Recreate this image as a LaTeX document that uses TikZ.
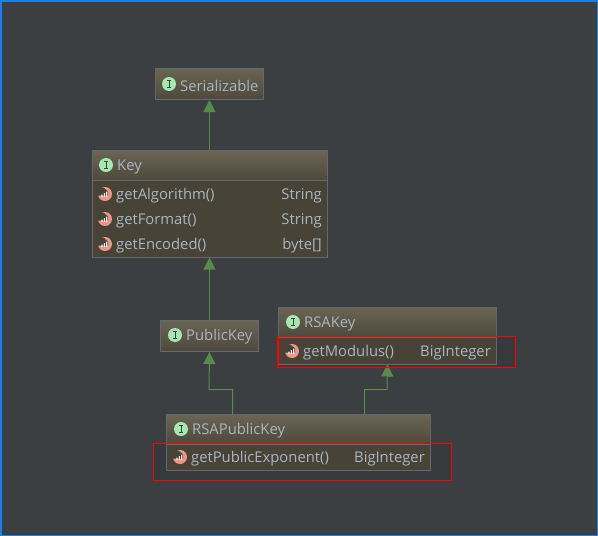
\documentclass[tikz,border=0pt]{standalone}
\usepackage{fontspec}
\setmainfont{Open Sans}
\usetikzlibrary{arrows.meta}

\definecolor{canvasbg}{HTML}{3C3F41}
\definecolor{windowblue}{HTML}{1B7FE6}
\definecolor{boxborder}{HTML}{65676A}
\definecolor{headtop}{HTML}{6A6454}
\definecolor{headbottom}{HTML}{4E493C}
\definecolor{bodyfill}{HTML}{484337}
\definecolor{labeltext}{HTML}{A9B5C1}
\definecolor{extgreen}{HTML}{5A8A4B}
\definecolor{ifacegreen}{HTML}{A3E8AE}
\definecolor{methodred}{HTML}{F2938A}

\tikzset{
  headbox/.style={draw=boxborder, line width=1pt, top color=headtop, bottom color=headbottom, anchor=north west, inner sep=0pt},
  bodybox/.style={draw=boxborder, line width=1pt, fill=bodyfill, anchor=north west, inner sep=0pt},
  namelabel/.style={text=labeltext, anchor=west, inner sep=0pt, yshift=-1.5pt, font=\fontsize{14.8}{16}\selectfont},
  typelabel/.style={text=labeltext, anchor=east, inner sep=0pt, yshift=-1.5pt, font=\fontsize{14.8}{16}\selectfont},
  extends/.style={draw=extgreen, line width=1pt, -{Triangle[length=12pt,width=12pt]}},
  redmark/.style={draw=red, line width=1.2pt},
  softshadow/.style={fill=black, opacity=0.07},
  ifaceicon/.pic={
    \fill[ifacegreen] (0,0) circle (7);
    \draw[black!75, line width=0.9pt] (0,-3.5) -- (0,3.5) (-2,-3.5) -- (2,-3.5) (-2,3.5) -- (2,3.5);
  },
  methodicon/.pic={
    \fill[methodred] (0,0) circle (7);
    \fill[bodyfill] (-8,1.5) -- (3,1.5) -- (3,-2.5) -- (-1,-6) -- (-8,-8) -- cycle;
    \fill[white!85!methodred] (-3.6,3) rectangle (-2.5,0.5) (-1.2,3) rectangle (-0.1,-1) (1.2,3) rectangle (2.3,-2.5);
  }
}

\begin{document}
\begin{tikzpicture}[x=1pt, y=-1pt]
    \useasboundingbox (0,0) rectangle (598,536);
    \fill[canvasbg] (0,0) rectangle (598,536);
    \draw[windowblue, line width=1.5pt] (0.75,0.75) rectangle (597.25,535.25);

    % Serializable
    \node[headbox, minimum width=108pt, minimum height=31pt] (serializable) at (155,68) {};
    \pic at (169,84) {ifaceicon};
    \node[namelabel] (serializablename) at (180,84) {Serializable};

    % Key
    \node[headbox, minimum width=235pt, minimum height=30pt] (keyhead) at (91.5,150) {};
    \node[bodybox, minimum width=235pt, minimum height=76.5pt] (keybody) at (91.5,180) {};
    \pic at (106,165) {ifaceicon};
    \node[namelabel] (keyname) at (117,165.5) {Key};
    \pic at (105,194) {methodicon};
    \node[namelabel] (algname) at (116,194) {getAlgorithm()};
    \node[typelabel] (algtype) at (322,194) {String};
    \pic at (105,219) {methodicon};
    \node[namelabel] (formatname) at (116,219) {getFormat()};
    \node[typelabel] (formattype) at (322,219) {String};
    \pic at (105,244) {methodicon};
    \node[namelabel] (encodedname) at (116,244) {getEncoded()};
    \node[typelabel] (encodedtype) at (322,244) {byte[]};

    % PublicKey
    \node[headbox, minimum width=98pt, minimum height=31.5pt] (publickey) at (160,319.5) {};
    \pic at (175,335) {ifaceicon};
    \node[namelabel] (publickeyname) at (186,335.5) {PublicKey};

    % RSAKey
    \fill[softshadow] (278,337) rectangle (516,368);
    \node[headbox, minimum width=218pt, minimum height=30pt] (rsakeyhead) at (278,307) {};
    \node[bodybox, minimum width=218pt, minimum height=26.5pt] (rsakeybody) at (278,337) {};
    \pic at (293,322) {ifaceicon};
    \node[namelabel] (rsakeyname) at (304,322.5) {RSAKey};
    \pic at (292,351) {methodicon};
    \node[namelabel] (modulusname) at (303,351) {getModulus()};
    \node[typelabel] (modulustype) at (491,351) {BigInteger};

    % RSAPublicKey
    \fill[softshadow] (153,444) rectangle (452,481);
    \node[headbox, minimum width=264pt, minimum height=29.5pt] (rsapublickeyhead) at (166,414) {};
    \node[bodybox, minimum width=264pt, minimum height=26.5pt] (rsapublickeybody) at (166,443.5) {};
    \pic at (181,429) {ifaceicon};
    \node[namelabel] (rsapublickeyname) at (192,429.5) {RSAPublicKey};
    \pic at (180,457) {methodicon};
    \node[namelabel] (exponentname) at (191,457) {getPublicExponent()};
    \node[typelabel] (exponenttype) at (425,457) {BigInteger};

    % extends
    \coordinate (pubstart) at (232.5,414);
    \coordinate (pubbend) at (209,389.5);
    \coordinate (rsastart) at (364.5,414);
    \coordinate (rsabend) at (387,389.5);
    \draw[extends] (keyhead.north) -- (serializable.south);
    \draw[extends] (publickey.north) -- (keybody.south);
    \draw[extends] (pubstart) |- (pubbend) -- (publickey.south);
    \draw[extends] (rsastart) |- (rsabend) -- (rsakeybody.south);

    % red marks
    \draw[redmark] (278,336.5) rectangle (515.5,367.5);
    \draw[redmark] (153.5,443.5) rectangle (451.5,480.5);
\end{tikzpicture}
\end{document}
